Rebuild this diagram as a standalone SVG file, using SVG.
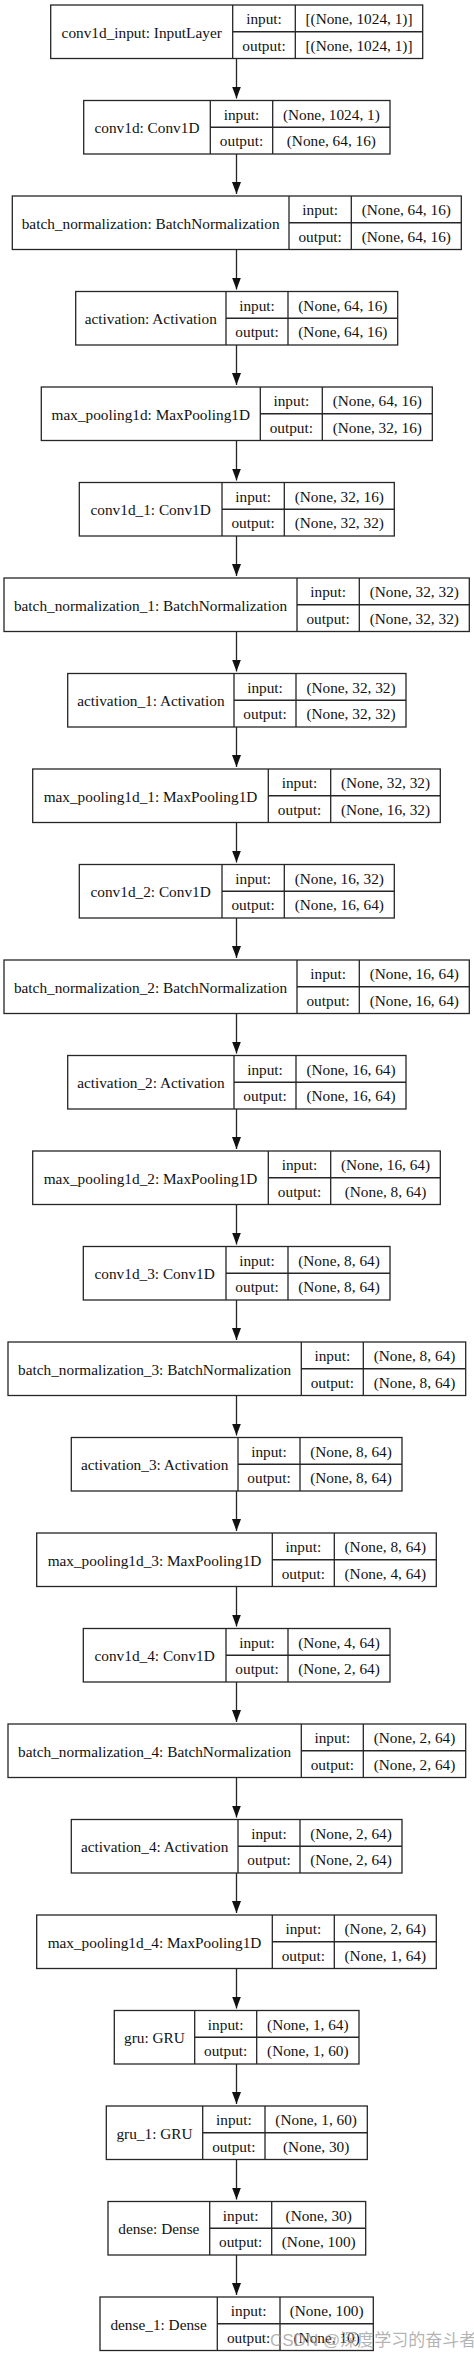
<svg xmlns="http://www.w3.org/2000/svg" width="474" height="2356" viewBox="0 0 474 2356">
<style>
.n rect{fill:#fff;stroke:#262626;stroke-width:1.3}
.n path{fill:none;stroke:#262626;stroke-width:1.3}
.n text{font-family:"Liberation Serif","Times New Roman",serif;font-size:15.3px;fill:#111;text-anchor:middle}
.e line{stroke:#262626;stroke-width:1.3}
.wm{font-family:"Liberation Sans","Noto Sans CJK SC",sans-serif;font-size:17px;fill:#9a9a9a;fill-opacity:0.75}
</style>
<defs>
<marker id="ah" viewBox="0 0 12 9" refX="12" refY="4.5" markerWidth="12" markerHeight="9" markerUnits="userSpaceOnUse" orient="auto"><path d="M0 0L12 4.5L0 9z" fill="#111"/></marker>
</defs>
<rect width="474" height="2356" fill="#fff"/>
<g id="edges" class="e" marker-end="url(#ah)">
<line x1="236.5" y1="58.5" x2="236.5" y2="98.5" marker-end="url(#ah)"/>
<line x1="236.5" y1="154" x2="236.5" y2="194" marker-end="url(#ah)"/>
<line x1="236.5" y1="249.5" x2="236.5" y2="289.5" marker-end="url(#ah)"/>
<line x1="236.5" y1="345" x2="236.5" y2="385" marker-end="url(#ah)"/>
<line x1="236.5" y1="440.5" x2="236.5" y2="480.5" marker-end="url(#ah)"/>
<line x1="236.5" y1="536" x2="236.5" y2="576" marker-end="url(#ah)"/>
<line x1="236.5" y1="631.5" x2="236.5" y2="671.5" marker-end="url(#ah)"/>
<line x1="236.5" y1="727" x2="236.5" y2="767" marker-end="url(#ah)"/>
<line x1="236.5" y1="822.5" x2="236.5" y2="862.5" marker-end="url(#ah)"/>
<line x1="236.5" y1="918" x2="236.5" y2="958" marker-end="url(#ah)"/>
<line x1="236.5" y1="1013.5" x2="236.5" y2="1053.5" marker-end="url(#ah)"/>
<line x1="236.5" y1="1109" x2="236.5" y2="1149" marker-end="url(#ah)"/>
<line x1="236.5" y1="1204.5" x2="236.5" y2="1244.5" marker-end="url(#ah)"/>
<line x1="236.5" y1="1300" x2="236.5" y2="1340" marker-end="url(#ah)"/>
<line x1="236.5" y1="1395.5" x2="236.5" y2="1435.5" marker-end="url(#ah)"/>
<line x1="236.5" y1="1491" x2="236.5" y2="1531" marker-end="url(#ah)"/>
<line x1="236.5" y1="1586.5" x2="236.5" y2="1626.5" marker-end="url(#ah)"/>
<line x1="236.5" y1="1682" x2="236.5" y2="1722" marker-end="url(#ah)"/>
<line x1="236.5" y1="1777.5" x2="236.5" y2="1817.5" marker-end="url(#ah)"/>
<line x1="236.5" y1="1873" x2="236.5" y2="1913" marker-end="url(#ah)"/>
<line x1="236.5" y1="1968.5" x2="236.5" y2="2008.5" marker-end="url(#ah)"/>
<line x1="236.5" y1="2064" x2="236.5" y2="2104" marker-end="url(#ah)"/>
<line x1="236.5" y1="2159.5" x2="236.5" y2="2199.5" marker-end="url(#ah)"/>
<line x1="236.5" y1="2255" x2="236.5" y2="2295" marker-end="url(#ah)"/>
</g>

<g id="conv1d_input" class="n" transform="translate(0,5)">
<rect x="50.7" y="0" width="372" height="53.5"/>
<path d="M232.7 0V53.5M295.3 0V53.5M232.7 26.75H422.7"/>
<text x="141.7" y="32.5">conv1d_input: InputLayer</text>
<text x="264" y="19.1">input:</text><text x="264" y="45.8">output:</text>
<text x="359" y="19.1">[(None, 1024, 1)]</text><text x="359" y="45.8">[(None, 1024, 1)]</text>
</g>

<g id="conv1d" class="n" transform="translate(0,100.5)">
<rect x="83.7" y="0" width="306.3" height="53.5"/>
<path d="M210.3 0V53.5M272.7 0V53.5M210.3 26.75H390"/>
<text x="147" y="32.5">conv1d: Conv1D</text>
<text x="241.5" y="19.1">input:</text><text x="241.5" y="45.8">output:</text>
<text x="331.35" y="19.1">(None, 1024, 1)</text><text x="331.35" y="45.8">(None, 64, 16)</text>
</g>

<g id="batch_normalization" class="n" transform="translate(0,196)">
<rect x="12.3" y="0" width="449" height="53.5"/>
<path d="M289 0V53.5M351.3 0V53.5M289 26.75H461.3"/>
<text x="150.65" y="32.5">batch_normalization: BatchNormalization</text>
<text x="320.15" y="19.1">input:</text><text x="320.15" y="45.8">output:</text>
<text x="406.3" y="19.1">(None, 64, 16)</text><text x="406.3" y="45.8">(None, 64, 16)</text>
</g>

<g id="activation" class="n" transform="translate(0,291.5)">
<rect x="75.7" y="0" width="322" height="53.5"/>
<path d="M226 0V53.5M288 0V53.5M226 26.75H397.7"/>
<text x="150.85" y="32.5">activation: Activation</text>
<text x="257" y="19.1">input:</text><text x="257" y="45.8">output:</text>
<text x="342.85" y="19.1">(None, 64, 16)</text><text x="342.85" y="45.8">(None, 64, 16)</text>
</g>

<g id="max_pooling1d" class="n" transform="translate(0,387)">
<rect x="41.3" y="0" width="391" height="53.5"/>
<path d="M260.3 0V53.5M322.3 0V53.5M260.3 26.75H432.3"/>
<text x="150.8" y="32.5">max_pooling1d: MaxPooling1D</text>
<text x="291.3" y="19.1">input:</text><text x="291.3" y="45.8">output:</text>
<text x="377.3" y="19.1">(None, 64, 16)</text><text x="377.3" y="45.8">(None, 32, 16)</text>
</g>

<g id="conv1d_1" class="n" transform="translate(0,482.5)">
<rect x="79.3" y="0" width="315" height="53.5"/>
<path d="M222 0V53.5M284.3 0V53.5M222 26.75H394.3"/>
<text x="150.65" y="32.5">conv1d_1: Conv1D</text>
<text x="253.15" y="19.1">input:</text><text x="253.15" y="45.8">output:</text>
<text x="339.3" y="19.1">(None, 32, 16)</text><text x="339.3" y="45.8">(None, 32, 32)</text>
</g>

<g id="batch_normalization_1" class="n" transform="translate(0,578)">
<rect x="4" y="0" width="465.3" height="53.5"/>
<path d="M297 0V53.5M359.3 0V53.5M297 26.75H469.3"/>
<text x="150.5" y="32.5">batch_normalization_1: BatchNormalization</text>
<text x="328.15" y="19.1">input:</text><text x="328.15" y="45.8">output:</text>
<text x="414.3" y="19.1">(None, 32, 32)</text><text x="414.3" y="45.8">(None, 32, 32)</text>
</g>

<g id="activation_1" class="n" transform="translate(0,673.5)">
<rect x="67.7" y="0" width="338.3" height="53.5"/>
<path d="M234 0V53.5M296 0V53.5M234 26.75H406"/>
<text x="150.85" y="32.5">activation_1: Activation</text>
<text x="265" y="19.1">input:</text><text x="265" y="45.8">output:</text>
<text x="351" y="19.1">(None, 32, 32)</text><text x="351" y="45.8">(None, 32, 32)</text>
</g>

<g id="max_pooling1d_1" class="n" transform="translate(0,769)">
<rect x="32.7" y="0" width="407.6" height="53.5"/>
<path d="M268.3 0V53.5M330.7 0V53.5M268.3 26.75H440.3"/>
<text x="150.5" y="32.5">max_pooling1d_1: MaxPooling1D</text>
<text x="299.5" y="19.1">input:</text><text x="299.5" y="45.8">output:</text>
<text x="385.5" y="19.1">(None, 32, 32)</text><text x="385.5" y="45.8">(None, 16, 32)</text>
</g>

<g id="conv1d_2" class="n" transform="translate(0,864.5)">
<rect x="79.3" y="0" width="315" height="53.5"/>
<path d="M222 0V53.5M284.3 0V53.5M222 26.75H394.3"/>
<text x="150.65" y="32.5">conv1d_2: Conv1D</text>
<text x="253.15" y="19.1">input:</text><text x="253.15" y="45.8">output:</text>
<text x="339.3" y="19.1">(None, 16, 32)</text><text x="339.3" y="45.8">(None, 16, 64)</text>
</g>

<g id="batch_normalization_2" class="n" transform="translate(0,960)">
<rect x="4" y="0" width="465.3" height="53.5"/>
<path d="M297 0V53.5M359.3 0V53.5M297 26.75H469.3"/>
<text x="150.5" y="32.5">batch_normalization_2: BatchNormalization</text>
<text x="328.15" y="19.1">input:</text><text x="328.15" y="45.8">output:</text>
<text x="414.3" y="19.1">(None, 16, 64)</text><text x="414.3" y="45.8">(None, 16, 64)</text>
</g>

<g id="activation_2" class="n" transform="translate(0,1055.5)">
<rect x="67.7" y="0" width="338.3" height="53.5"/>
<path d="M234 0V53.5M296 0V53.5M234 26.75H406"/>
<text x="150.85" y="32.5">activation_2: Activation</text>
<text x="265" y="19.1">input:</text><text x="265" y="45.8">output:</text>
<text x="351" y="19.1">(None, 16, 64)</text><text x="351" y="45.8">(None, 16, 64)</text>
</g>

<g id="max_pooling1d_2" class="n" transform="translate(0,1151)">
<rect x="32.7" y="0" width="407.6" height="53.5"/>
<path d="M268.3 0V53.5M330.7 0V53.5M268.3 26.75H440.3"/>
<text x="150.5" y="32.5">max_pooling1d_2: MaxPooling1D</text>
<text x="299.5" y="19.1">input:</text><text x="299.5" y="45.8">output:</text>
<text x="385.5" y="19.1">(None, 16, 64)</text><text x="385.5" y="45.8">(None, 8, 64)</text>
</g>

<g id="conv1d_3" class="n" transform="translate(0,1246.5)">
<rect x="83.3" y="0" width="306.7" height="53.5"/>
<path d="M226 0V53.5M288 0V53.5M226 26.75H390"/>
<text x="154.65" y="32.5">conv1d_3: Conv1D</text>
<text x="257" y="19.1">input:</text><text x="257" y="45.8">output:</text>
<text x="339" y="19.1">(None, 8, 64)</text><text x="339" y="45.8">(None, 8, 64)</text>
</g>

<g id="batch_normalization_3" class="n" transform="translate(0,1342)">
<rect x="8" y="0" width="457.7" height="53.5"/>
<path d="M301.3 0V53.5M363.3 0V53.5M301.3 26.75H465.7"/>
<text x="154.65" y="32.5">batch_normalization_3: BatchNormalization</text>
<text x="332.3" y="19.1">input:</text><text x="332.3" y="45.8">output:</text>
<text x="414.5" y="19.1">(None, 8, 64)</text><text x="414.5" y="45.8">(None, 8, 64)</text>
</g>

<g id="activation_3" class="n" transform="translate(0,1437.5)">
<rect x="71.3" y="0" width="330.7" height="53.5"/>
<path d="M238 0V53.5M300 0V53.5M238 26.75H402"/>
<text x="154.65" y="32.5">activation_3: Activation</text>
<text x="269" y="19.1">input:</text><text x="269" y="45.8">output:</text>
<text x="351" y="19.1">(None, 8, 64)</text><text x="351" y="45.8">(None, 8, 64)</text>
</g>

<g id="max_pooling1d_3" class="n" transform="translate(0,1533)">
<rect x="36.7" y="0" width="399.6" height="53.5"/>
<path d="M272.3 0V53.5M334.3 0V53.5M272.3 26.75H436.3"/>
<text x="154.5" y="32.5">max_pooling1d_3: MaxPooling1D</text>
<text x="303.3" y="19.1">input:</text><text x="303.3" y="45.8">output:</text>
<text x="385.3" y="19.1">(None, 8, 64)</text><text x="385.3" y="45.8">(None, 4, 64)</text>
</g>

<g id="conv1d_4" class="n" transform="translate(0,1628.5)">
<rect x="83.3" y="0" width="306.7" height="53.5"/>
<path d="M226 0V53.5M288 0V53.5M226 26.75H390"/>
<text x="154.65" y="32.5">conv1d_4: Conv1D</text>
<text x="257" y="19.1">input:</text><text x="257" y="45.8">output:</text>
<text x="339" y="19.1">(None, 4, 64)</text><text x="339" y="45.8">(None, 2, 64)</text>
</g>

<g id="batch_normalization_4" class="n" transform="translate(0,1724)">
<rect x="8" y="0" width="457.7" height="53.5"/>
<path d="M301.3 0V53.5M363.3 0V53.5M301.3 26.75H465.7"/>
<text x="154.65" y="32.5">batch_normalization_4: BatchNormalization</text>
<text x="332.3" y="19.1">input:</text><text x="332.3" y="45.8">output:</text>
<text x="414.5" y="19.1">(None, 2, 64)</text><text x="414.5" y="45.8">(None, 2, 64)</text>
</g>

<g id="activation_4" class="n" transform="translate(0,1819.5)">
<rect x="71.3" y="0" width="330.7" height="53.5"/>
<path d="M238 0V53.5M300 0V53.5M238 26.75H402"/>
<text x="154.65" y="32.5">activation_4: Activation</text>
<text x="269" y="19.1">input:</text><text x="269" y="45.8">output:</text>
<text x="351" y="19.1">(None, 2, 64)</text><text x="351" y="45.8">(None, 2, 64)</text>
</g>

<g id="max_pooling1d_4" class="n" transform="translate(0,1915)">
<rect x="36.7" y="0" width="399.6" height="53.5"/>
<path d="M272.3 0V53.5M334.3 0V53.5M272.3 26.75H436.3"/>
<text x="154.5" y="32.5">max_pooling1d_4: MaxPooling1D</text>
<text x="303.3" y="19.1">input:</text><text x="303.3" y="45.8">output:</text>
<text x="385.3" y="19.1">(None, 2, 64)</text><text x="385.3" y="45.8">(None, 1, 64)</text>
</g>

<g id="gru" class="n" transform="translate(0,2010.5)">
<rect x="114.3" y="0" width="244.7" height="53.5"/>
<path d="M194.7 0V53.5M256.7 0V53.5M194.7 26.75H359"/>
<text x="154.5" y="32.5">gru: GRU</text>
<text x="225.7" y="19.1">input:</text><text x="225.7" y="45.8">output:</text>
<text x="307.85" y="19.1">(None, 1, 64)</text><text x="307.85" y="45.8">(None, 1, 60)</text>
</g>

<g id="gru_1" class="n" transform="translate(0,2106)">
<rect x="106.3" y="0" width="261" height="53.5"/>
<path d="M202.7 0V53.5M265 0V53.5M202.7 26.75H367.3"/>
<text x="154.5" y="32.5">gru_1: GRU</text>
<text x="233.85" y="19.1">input:</text><text x="233.85" y="45.8">output:</text>
<text x="316.15" y="19.1">(None, 1, 60)</text><text x="316.15" y="45.8">(None, 30)</text>
</g>

<g id="dense" class="n" transform="translate(0,2201.5)">
<rect x="108" y="0" width="257.7" height="53.5"/>
<path d="M209.7 0V53.5M271.7 0V53.5M209.7 26.75H365.7"/>
<text x="158.85" y="32.5">dense: Dense</text>
<text x="240.7" y="19.1">input:</text><text x="240.7" y="45.8">output:</text>
<text x="318.7" y="19.1">(None, 30)</text><text x="318.7" y="45.8">(None, 100)</text>
</g>

<g id="dense_1" class="n" transform="translate(0,2297)">
<rect x="100" y="0" width="273.3" height="53.5"/>
<path d="M217.3 0V53.5M280 0V53.5M217.3 26.75H373.3"/>
<text x="158.65" y="32.5">dense_1: Dense</text>
<text x="248.65" y="19.1">input:</text><text x="248.65" y="45.8">output:</text>
<text x="326.65" y="19.1">(None, 100)</text><text x="326.65" y="45.8">(None, 10)</text>
</g>

<text class="wm" x="270" y="2346">CSDN @深度学习的奋斗者</text>
</svg>
